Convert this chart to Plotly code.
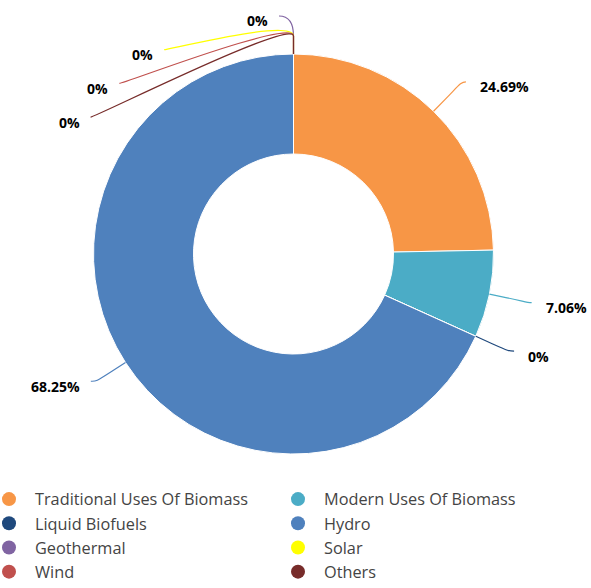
import math
import plotly.graph_objects as go

# ---------------- data ----------------
categories = ["Traditional Uses Of Biomass", "Modern Uses Of Biomass", "Liquid Biofuels",
              "Hydro", "Geothermal", "Solar", "Wind", "Others"]
values = [24.69, 7.06, 0, 68.25, 0, 0, 0, 0]
colors = ["#F79646", "#4BACC6", "#1F497D", "#4F81BD", "#8064A2", "#FFFF00", "#C0504D", "#772C2A"]

# ---------------- layout constants ----------------
W, H = 591, 588
MB = 110                 # bottom margin (legend lives there)
PH = H - MB              # plot-area height
CX, CY, R = 293.5, 254.0, 200.0
DIST = 30.0

def px(x):
    return x / W

def py(y):
    return (PH - y) / PH

fig = go.Figure()
fig.add_trace(go.Pie(
    labels=categories, values=values, marker=dict(colors=colors, line=dict(color="white", width=1)),
    hole=0.5, sort=False, direction="clockwise", rotation=0, textinfo="none",
    hoverinfo="label+percent", showlegend=False,
    domain=dict(x=[px(CX - R), px(CX + R)], y=[py(CY + R), py(CY - R)]),
))

# legend entries with circle markers
for name, col in zip(categories, colors):
    fig.add_trace(go.Scatter(x=[None], y=[None], mode="markers", name=name,
                             marker=dict(color=col, size=14, symbol="circle"), hoverinfo="skip"))

# ---------------- data labels with connectors ----------------
total = sum(values)
labels_info = []
cum = 0.0
for i, v in enumerate(values):
    frac = (cum + v / 2) / total
    cum += v
    a = 2 * math.pi * frac
    side = 1 if 0 < frac < 0.5 else -1
    natural = CY - (R + DIST) * math.cos(a)
    ty = natural + (7.5 if math.cos(a) < 0 else -3.0)
    labels_info.append(dict(i=i, a=a, side=side, ty=ty))

# simple collision avoidance on each side
SPACING = 33.7
for s in (1, -1):
    grp = sorted([d for d in labels_info if d["side"] == s], key=lambda d: d["ty"])
    for k in range(1, len(grp)):
        if grp[k]["ty"] < grp[k - 1]["ty"] + SPACING:
            grp[k]["ty"] = grp[k - 1]["ty"] + SPACING

shapes = []
annotations = []
for d in labels_info:
    i, a, s, ty = d["i"], d["a"], d["side"], d["ty"]
    dy = ty - CY
    dx = math.sqrt(max(0.0, (R + DIST) ** 2 - dy ** 2))
    edge_x = CX + s * (dx + 27.5)          # inner edge of label text
    end_x, end_y = edge_x - s * 13, ty - 5  # connector end
    touch = (CX + R * math.sin(a), CY - R * math.cos(a))
    brk = (CX + (R + 18) * math.sin(a), CY - (R + 18) * math.cos(a))
    c1 = (end_x - s * 5, end_y)
    c2 = (2 * brk[0] - touch[0], 2 * brk[1] - touch[1])
    path = (f"M {px(end_x)},{py(end_y)} C {px(c1[0])},{py(c1[1])} {px(c2[0])},{py(c2[1])} "
            f"{px(brk[0])},{py(brk[1])} L {px(touch[0])},{py(touch[1])}")
    shapes.append(dict(type="path", xref="paper", yref="paper", path=path,
                       line=dict(color=colors[i], width=1.2), layer="above"))
    annotations.append(dict(
        xref="paper", yref="paper", x=px(edge_x + (-1 if s > 0 else 4)), y=py(ty),
        xanchor="left" if s > 0 else "right", yanchor="middle", showarrow=False,
        text=f"<b>{values[i]:g}%</b>",
        font=dict(family="Open Sans, sans-serif", size=14, color="#000000"),
    ))

fig.update_layout(
    width=W, height=H,
    margin=dict(l=0, r=0, t=0, b=MB, autoexpand=False),
    paper_bgcolor="white", plot_bgcolor="white",
    xaxis=dict(visible=False), yaxis=dict(visible=False),
    shapes=shapes, annotations=annotations,
    legend=dict(orientation="h", x=-17 / W, xanchor="left", y=py(482), yanchor="top",
                entrywidth=232, entrywidthmode="pixels", itemwidth=42,
                font=dict(family="Open Sans, sans-serif", size=16.3, color="#444444"),
                traceorder="normal", tracegroupgap=0),
    showlegend=True,
)

fig.write_html("out.html")
